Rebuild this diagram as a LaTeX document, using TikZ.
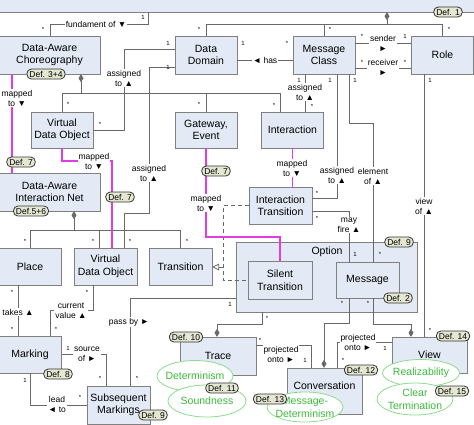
\documentclass[tikz,border=0pt]{standalone}
\usepackage{fontspec}
\setmainfont{Liberation Sans}
\usetikzlibrary{arrows.meta,shapes.geometric}
\definecolor{boxfill}{RGB}{227,234,245}
\definecolor{boxline}{RGB}{128,128,128}
\definecolor{linegray}{RGB}{105,105,105}
\definecolor{mapcol}{RGB}{225,60,225}
\definecolor{deffill}{RGB}{228,231,210}
\definecolor{propline}{RGB}{140,220,140}
\definecolor{proptext}{RGB}{60,185,60}
\newcommand\boxfont{\fontsize{10.5}{12.5}\selectfont}
\newcommand\lblfont{\fontsize{8.5}{10}\selectfont}

\begin{document}
\begin{tikzpicture}[x=1pt, y=-1pt,
        box/.style={draw=boxline, fill=boxfill, align=center, minimum width=62pt, minimum height=37pt, inner sep=1pt, font=\boxfont},
        conn/.style={draw=linegray, line width=0.8pt},
        comp/.style={conn, arrows={Diamond[length=8pt, width=5pt]-}},
        mapline/.style={draw=mapcol, line width=1.3pt},
        dashline/.style={conn, dashed, dash pattern=on 4pt off 3pt},
        lbl/.style={fill=white, align=center, inner sep=1pt, font=\lblfont},
        mult/.style={inner sep=0pt, font=\fontsize{6}{6}\selectfont},
        defbadge/.style={draw=black!80, fill=deffill, rounded corners=4.5pt, inner xsep=2.5pt, inner ysep=1pt, minimum height=10pt, line width=0.8pt, font=\fontsize{8.5}{9}\selectfont},
        prop/.style={ellipse, draw=propline, fill=white, text=proptext, align=center, inner sep=-4pt, line width=0.8pt, font=\fontsize{10.5}{13}\selectfont}]

        \useasboundingbox (0,0) rectangle (474,424);

        \node[name=topbar, box, minimum width=480pt, minimum height=16pt] at (237,4) {};
        \node[name=choreo, box, minimum width=101pt, minimum height=38pt] at (49.5,55) {Data-Aware\\Choreography};
        \node[name=domain, box, minimum height=38pt] at (206,55) {Data\\Domain};
        \node[name=msgclass, box, minimum height=38pt] at (324,55) {Message\\Class};
        \node[name=role, box, minimum height=38pt] at (442.5,55) {Role};
        \node[name=vdo1, box, minimum height=36pt] at (62,130) {Virtual\\Data Object};
        \node[name=gateway, box, minimum height=36pt] at (206,130) {Gateway,\\Event};
        \node[name=interaction, box, minimum height=36pt] at (292.5,130) {Interaction};
        \node[name=itrans, box, minimum width=63pt] at (280.5,205.5) {Interaction\\Transition};
        \node[name=net, box, minimum width=101pt, minimum height=38pt] at (49.5,192) {Data-Aware\\Interaction Net};
        \node[name=place, box, minimum width=63pt] at (30,266.5) {Place};
        \node[name=vdo2, box, minimum width=63pt] at (105.5,266.5) {Virtual\\Data Object};
        \node[name=transition, box, minimum width=63pt] at (180.5,266.5) {Transition};
        \node[name=option, box, minimum width=181pt, minimum height=70pt] at (326.5,277) {};
        \node[name=optiontitle, font=\boxfont] at (327,252) {Option};
        \node[name=silent, box, minimum width=64pt, minimum height=38pt] at (280,280) {Silent\\Transition};
        \node[name=message, box, minimum width=63pt, minimum height=36pt] at (367.5,280) {Message};
        \node[name=marking, box, minimum width=63pt] at (30,354.5) {Marking};
        \node[name=subseq, box, minimum width=63pt, minimum height=38pt] at (118.5,405) {Subsequent\\Markings};
        \node[name=trace, box, minimum width=76pt, minimum height=38pt] at (218,356) {Trace};
        \node[name=conversation, box, minimum width=75pt, minimum height=46pt] at (324.5,391) {};
        \node[name=convtitle, font=\boxfont] at (324.5,386) {Conversation};
        \node[name=view, box, minimum width=75pt, minimum height=36pt] at (429.5,355) {View};

        \draw[conn] (choreo.north -| 50,0) |- (148,24) -- (topbar.south -| 148,0);
        \draw[comp] (topbar.south -| 387,0) -- (387,24) -| (role.north);
        \draw[conn] (387,24) -| (domain.north);
        \draw[conn] (msgclass.north |- 0,24) -- (msgclass.north);
        \draw[conn] (domain.east |- 0,60) -- (msgclass.west |- 0,60);
        \draw[conn] (msgclass.east |- 0,43) -- (role.west |- 0,43);
        \draw[conn] (msgclass.east |- 0,68) -- (role.west |- 0,68);
        \draw[conn] (domain.west |- 0,49) -| (124,130) -- (vdo1.east |- 0,130);
        \draw[conn] (domain.west |- 0,67) -| (149,213) -| (vdo2.north -| 124,0);
        \draw[comp] (choreo.south -| 81,0) -- (81,93);
        \draw[conn] (vdo1.north) |- (280,93) -- (interaction.north -| 280,0);
        \draw[conn] (gateway.north |- 0,93) -- (gateway.north);
        \draw[conn] (msgclass.south -| 305,0) -- (interaction.north -| 305,0);
        \draw[conn] (msgclass.south -| 337,0) |- (itrans.east |- 0,198);
        \draw[conn] (msgclass.south -| 349,0) |- (373,123) -- (message.north -| 373,0);
        \draw[conn] (itrans.east |- 0,211) -| (message.north -| 349,0);
        \draw[conn] (role.south -| 424,0) -- (view.north -| 424,0);
        \draw[comp] (net.south -| 74,0) -- (74,230);
        \draw[conn] (place.north) |- (transition.north |- 0,230) -- (transition.north);
        \draw[conn] (vdo2.north -| 99,0) -- (99,230);
        \draw[conn] (place.south -| 18,0) -- (marking.north -| 18,0);
        \draw[conn] (vdo2.south -| 93,0) |- (50,310) -- (marking.north -| 50,0);
        \draw[conn] (marking.east |- 0,354) -| (subseq.north -| 106,0);
        \draw[conn] (marking.south) |- (subseq.west |- 0,405);
        \draw[conn] (option.west |- 0,298) -| (subseq.north -| 130,0);
        \draw[comp] (trace.north -| 217,0) |- (262,324) -- (option.south -| 262,0);
        \draw[comp] (conversation.north -| 324,0) |- (349,323) -- (message.south -| 349,0);
        \draw[comp] (view.north -| 411,0) |- (373,324) -- (message.south -| 373,0);
        \draw[conn] (trace.east |- 0,345) -| (conversation.north -| 311,0);
        \draw[conn] (conversation.north -| 337,0) |- (view.west |- 0,342);
        \draw[dashline] (itrans.west) -| (223,280) -- (silent.west);
        \draw[conn, -{Triangle[open, length=7pt, width=7pt]}] (223,267) -- (transition.east |- 0,267);

        \draw[mapline] (choreo.south -| 12,0) -- (net.north -| 12,0);
        \draw[mapline] (vdo1.south) |- (112,161) -- (vdo2.north -| 112,0);
        \draw[mapline] (gateway.south) |- (280,237) -- (silent.north);
        \draw[mapline] (interaction.south) -- (itrans.north -| interaction.south);

        \node[lbl, name=lfund] at (96,24) {fundament of ▼};
        \node[lbl, name=lhas] at (265,60) {◄ has};
        \node[lbl, name=lsender] at (383,43) {sender\\►};
        \node[lbl, name=lreceiver] at (383,67) {receiver\\►};
        \node[lbl, name=lassign1] at (124,78) {assigned\\to ▲};
        \node[lbl, name=lassign2] at (149,173) {assigned\\to ▲};
        \node[lbl, name=lassign3] at (305,92) {assigned\\to ▲};
        \node[lbl, name=lassign4] at (337,175) {assigned\\to ▲};
        \node[lbl, name=lelement] at (373,176) {element\\of ▲};
        \node[lbl, name=lmayfire] at (349,225) {may\\fire ▲};
        \node[lbl, name=lviewof] at (424,206) {view\\of ▲};
        \node[lbl, name=lmap1] at (17,98) {mapped\\to ▼};
        \node[lbl, name=lmap2] at (94,161) {mapped\\to ▼};
        \node[lbl, name=lmap3] at (206,203) {mapped\\to ▼};
        \node[lbl, name=lmap4] at (292,168) {mapped\\to ▼};
        \node[lbl, name=ltakes] at (18,312) {takes ▲};
        \node[lbl, name=lcurrent] at (71,311) {current\\value ▲};
        \node[lbl, name=lsource] at (87,354) {source\\of ►};
        \node[lbl, name=llead] at (57,404) {lead\\◄ to};
        \node[lbl, name=lpass] at (129,322) {pass by ►};
        \node[lbl, name=lproj1] at (281,354) {projected\\onto ►};
        \node[lbl, name=lproj2] at (358,342) {projected\\onto ►};

        \node[name=determinism, prop, minimum width=76pt, minimum height=31pt] at (195,376) {Determinism};
        \node[name=soundness, prop, minimum width=78pt, minimum height=32pt] at (207,401) {Soundness};
        \node[name=msgdet, prop, minimum width=76pt, minimum height=30pt] at (305,407) {Message-\\Determinism};
        \node[name=realizability, prop, minimum width=77pt, minimum height=27pt] at (421,373) {Realizability};
        \node[name=clearterm, prop, minimum width=76pt, minimum height=32pt] at (415,399) {Clear\\Termination};

        \foreach \x/\y/\t [count=\i] in {448/12/Def. 1, 46/74/Def. 3+4, 21/162/Def. 7, 31/211/Def.5+6,
                120/197/Def. 7, 216/171/Def. 7, 399/242/Def. 9, 398/298/Def. 2, 186/337/Def. 10,
                222/388/Def. 11, 58/374/Def. 8, 153/415/Def. 9, 361/370/Def. 12, 270/399/Def. 13,
                453/336/Def. 14, 452/391/Def. 15}
            {
                \node[defbadge, name=def\i] at (\x,\y) {\t};
            }

        \foreach \x/\y/\m [count=\i] in {43/29/*, 143/17/1, 199/29/*, 330/29/*, 449/29/*, 243/43/1, 287/43/*,
                362/36/*, 405/36/1, 362/62/*, 405/62/*, 168/43/1, 100/124/*, 168/67/1, 130/241/*,
                68/104/*, 199/104/*, 274/105/*, 299/80/1, 312/106/*, 330/80/1, 317/193/*, 355/80/1,
                380/254/*, 317/218/*, 355/254/1, 430/80/1, 430/330/*, 25/241/*, 93/241/*, 187/241/*,
                12/292/*, 12/329/*, 87/292/*, 56/329/*, 68/348/1, 100/378/*, 25/380/1, 80/397/*,
                230/304/1, 137/378/*, 267/318/*, 342/303/*, 368/303/*, 260/340/*, 305/360/1,
                343/360/*, 385/348/1}
            {
                \node[mult, name=mult\i] at (\x,\y) {\m};
            }
    \end{tikzpicture}
\end{document}
